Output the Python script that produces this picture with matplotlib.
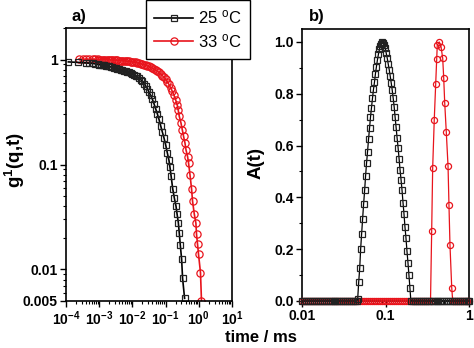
import numpy as np
import matplotlib
matplotlib.use("Agg")
import matplotlib.pyplot as plt
from matplotlib.ticker import FixedLocator, FixedFormatter, LogLocator, NullFormatter, MultipleLocator
from matplotlib.lines import Line2D

plt.rcParams['font.family'] = ['Liberation Sans', 'DejaVu Sans']
plt.rcParams['font.weight'] = 'bold'
plt.rcParams['mathtext.fontset'] = 'custom'
plt.rcParams['mathtext.rm'] = 'Liberation Sans'
plt.rcParams['mathtext.bf'] = 'Liberation Sans:bold'
plt.rcParams['mathtext.default'] = 'regular'

RED = '#e8141c'

# ---------------- panel a : g1(q,t) vs log10(time / ms) ----------------
a_logt_25 = [-3.93, -3.63, -3.40, -3.30, -3.20, -3.12, -3.05, -3.00, -2.95, -2.90,
             -2.85, -2.80, -2.75, -2.70, -2.65, -2.60, -2.55, -2.50, -2.45, -2.40,
             -2.35, -2.30, -2.25, -2.20, -2.15, -2.10, -2.05, -2.00, -1.95, -1.90,
             -1.85, -1.80, -1.75, -1.70, -1.65, -1.60, -1.55, -1.50, -1.45, -1.40,
             -1.35, -1.30, -1.25, -1.20, -1.15, -1.10, -1.05, -1.00, -0.95, -0.90,
             -0.87, -0.835, -0.787, -0.737, -0.686, -0.656, -0.617, -0.587, -0.557,
             -0.518, -0.488, -0.428]
a_g_25 = [0.95, 0.94, 0.93, 0.925, 0.92, 0.91, 0.90, 0.895, 0.89, 0.885,
          0.88, 0.87, 0.865, 0.86, 0.85, 0.845, 0.835, 0.83, 0.82, 0.81,
          0.80, 0.795, 0.785, 0.775, 0.765, 0.755, 0.745, 0.735, 0.72, 0.705,
          0.69, 0.67, 0.645, 0.62, 0.59, 0.56, 0.53, 0.49, 0.455, 0.42,
          0.38, 0.34, 0.305, 0.27, 0.235, 0.205, 0.18, 0.155, 0.13, 0.11,
          0.095, 0.078, 0.059, 0.048, 0.040, 0.034, 0.028, 0.022, 0.017,
          0.0126, 0.0082, 0.0053]

a_logt_33 = [-3.61, -3.50, -3.40, -3.30, -3.20, -3.12, -3.05, -3.00, -2.95, -2.90,
             -2.85, -2.80, -2.75, -2.70, -2.65, -2.60, -2.55, -2.50, -2.45, -2.40,
             -2.35, -2.30, -2.25, -2.20, -2.15, -2.10, -2.05, -2.00, -1.95, -1.90,
             -1.85, -1.80, -1.75, -1.70, -1.65, -1.60, -1.55, -1.50, -1.45, -1.40,
             -1.35, -1.30, -1.25, -1.20, -1.15, -1.10, -1.05, -1.00, -0.95, -0.90,
             -0.85, -0.80, -0.75, -0.70, -0.65, -0.62, -0.587, -0.536, -0.497, -0.458,
             -0.416, -0.386, -0.338, -0.308, -0.266, -0.219, -0.189, -0.138, -0.087,
             -0.069, -0.039, -0.009, 0.051, 0.081]
a_g_33 = [1.01, 1.01, 1.01, 1.01, 1.01, 1.005, 1.005, 1.0, 1.0, 1.0,
          1.0, 1.0, 0.995, 0.995, 0.99, 0.99, 0.99, 0.985, 0.985, 0.98,
          0.98, 0.975, 0.97, 0.97, 0.965, 0.96, 0.955, 0.95, 0.945, 0.94,
          0.93, 0.925, 0.915, 0.905, 0.895, 0.885, 0.87, 0.86, 0.845, 0.83,
          0.81, 0.795, 0.775, 0.755, 0.73, 0.705, 0.68, 0.65, 0.615, 0.58,
          0.54, 0.50, 0.46, 0.415, 0.37, 0.33, 0.287, 0.248, 0.214, 0.185,
          0.16, 0.138, 0.119, 0.103, 0.080, 0.059, 0.045, 0.034, 0.0275,
          0.0217, 0.0175, 0.0140, 0.0093, 0.0050]

# ---------------- panel b : A(t) vs log10(time / ms) ----------------
b_zero_logt_25_left = [-2.000, -1.976, -1.953, -1.929, -1.906, -1.882, -1.858, -1.835, -1.811,
                       -1.788, -1.764, -1.740, -1.717, -1.693, -1.670, -1.646, -1.622, -1.599,
                       -1.575, -1.552, -1.528, -1.504, -1.481, -1.457, -1.434, -1.410, -1.386,
                       -1.363, -1.345]
b_peak_logt_25 = [-1.333, -1.321, -1.309, -1.298, -1.286, -1.274, -1.262, -1.250, -1.239,
                  -1.227, -1.215, -1.203, -1.191, -1.180, -1.168, -1.156, -1.144, -1.132,
                  -1.121, -1.109, -1.097, -1.085, -1.073, -1.062, -1.050, -1.038,
                  -1.026, -1.014, -1.003, -0.991, -0.979, -0.967, -0.955, -0.944, -0.932,
                  -0.920, -0.908, -0.896, -0.885, -0.873, -0.861, -0.849, -0.837, -0.826,
                  -0.814, -0.802, -0.790, -0.778, -0.767, -0.755, -0.743, -0.731, -0.719,
                  -0.708]
b_peak_A_25 = [0.009, 0.073, 0.126, 0.199, 0.259, 0.318, 0.375, 0.427, 0.481,
               0.532, 0.577, 0.625, 0.668, 0.709, 0.746, 0.782, 0.817, 0.845,
               0.876, 0.904, 0.930, 0.952, 0.971, 0.984, 0.994, 1.0,
               0.997, 0.988, 0.976, 0.956, 0.937, 0.914, 0.892, 0.869, 0.843,
               0.815, 0.783, 0.749, 0.710, 0.670, 0.629, 0.591, 0.548, 0.507,
               0.469, 0.427, 0.379, 0.334, 0.286, 0.244, 0.193, 0.148, 0.099,
               0.052]
b_zero_logt_25_right = [-0.696, -0.672, -0.649, -0.625, -0.602, -0.578, -0.554, -0.531, -0.507,
                        -0.484, -0.460, -0.436, -0.413, -0.389, -0.366, -0.342, -0.318, -0.295,
                        -0.271, -0.248, -0.224, -0.200, -0.177, -0.153, -0.130, -0.106, -0.082,
                        -0.059, -0.035, -0.012, 0.000]

b_zero_logt_33_left = [-2.000, -1.976, -1.952, -1.928, -1.904, -1.880, -1.856, -1.832, -1.808,
                       -1.784, -1.760, -1.736, -1.712, -1.688, -1.664, -1.640, -1.616, -1.592,
                       -1.568, -1.544, -1.520, -1.496, -1.472, -1.448, -1.424, -1.400, -1.376,
                       -1.352, -1.328, -1.304, -1.280, -1.256, -1.232, -1.208, -1.184, -1.160,
                       -1.136, -1.112, -1.088, -1.064, -1.040, -1.016, -0.992, -0.968, -0.944,
                       -0.920, -0.896, -0.872, -0.848, -0.824, -0.800, -0.776, -0.752, -0.728,
                       -0.704, -0.680, -0.656, -0.632, -0.608, -0.584, -0.560, -0.536, -0.512,
                       -0.488]
b_peak_logt_33 = [-0.461, -0.447, -0.435, -0.416, -0.399, -0.387, -0.380, -0.356, -0.335,
                  -0.315, -0.303, -0.291, -0.272, -0.251, -0.240, -0.228, -0.207, -0.195]
b_peak_A_33 = [0.0, 0.27, 0.514, 0.70, 0.837, 0.933, 0.988, 1.0, 0.982,
               0.937, 0.862, 0.766, 0.652, 0.52, 0.372, 0.218, 0.052, 0.0]
b_zero_logt_33_right = [-0.171, -0.147, -0.123, -0.099, -0.075, -0.051, -0.027, -0.003]

labels = ['25 $^{o}$C', '33 $^{o}$C']
a_xticks = [1e-4, 1e-3, 1e-2, 1e-1, 1e0, 1e1]
a_xticklabels = [r'$\mathbf{10^{-4}}$', r'$\mathbf{10^{-3}}$', r'$\mathbf{10^{-2}}$',
                 r'$\mathbf{10^{-1}}$', r'$\mathbf{10^{0}}$', r'$\mathbf{10^{1}}$']
a_yticks = [0.005, 0.01, 0.1, 1]
a_yticklabels = ['0.005', '0.01', '0.1', '1']
b_xticks = [0.01, 0.1, 1]
b_xticklabels = ['0.01', '0.1', '1']

fig = plt.figure(figsize=(4.74, 3.48), dpi=100)
W, H = 474.0, 348.0
axa = fig.add_axes([66 / W, 1 - 301 / H, (232 - 66) / W, (301 - 28) / H])
axb = fig.add_axes([302 / W, 1 - 301 / H, (469 - 302) / W, (301 - 29) / H])

# panel a
t33 = 10 ** np.array(a_logt_33)
t25 = 10 ** np.array(a_logt_25)
axa.plot(t33, a_g_33, '-', color=RED, lw=1.2, marker='o', ms=5.2, mfc='none',
         mec=RED, mew=0.9)
axa.plot(t25, a_g_25, '-', color='black', lw=1.2, marker='s', ms=4.8, mfc='none',
         mec='#222222', mew=0.9)
axa.set_xscale('log')
axa.set_yscale('log')
axa.set_xlim(1e-4, 1e1)
axa.set_ylim(0.005, 2.0)
axa.xaxis.set_major_locator(FixedLocator(a_xticks))
axa.xaxis.set_major_formatter(FixedFormatter(a_xticklabels))
axa.xaxis.set_minor_locator(LogLocator(base=10, subs=np.arange(2, 10), numticks=20))
axa.xaxis.set_minor_formatter(NullFormatter())
axa.yaxis.set_major_locator(FixedLocator(a_yticks))
axa.yaxis.set_major_formatter(FixedFormatter(a_yticklabels))
axa.yaxis.set_minor_locator(LogLocator(base=10, subs=np.arange(2, 10), numticks=20))
axa.yaxis.set_minor_formatter(NullFormatter())

# panel b
tb33 = 10 ** np.array(b_zero_logt_33_left + b_peak_logt_33 + b_zero_logt_33_right)
Ab33 = [0.0] * len(b_zero_logt_33_left) + b_peak_A_33 + [0.0] * len(b_zero_logt_33_right)
tb25 = 10 ** np.array(b_zero_logt_25_left + b_peak_logt_25 + b_zero_logt_25_right)
Ab25 = [0.0] * len(b_zero_logt_25_left) + b_peak_A_25 + [0.0] * len(b_zero_logt_25_right)
axb.plot(tb33, Ab33, '-', color=RED, lw=0.9, marker='o', ms=4.4, mfc='none',
         mec=RED, mew=0.9, clip_on=False, zorder=3)
axb.plot(tb25, Ab25, '-', color='black', lw=0.9, marker='s', ms=4.4, mfc='none',
         mec='#222222', mew=0.9, clip_on=False, zorder=4)
axb.set_xscale('log')
axb.set_xlim(0.01, 1)
axb.set_ylim(0, 1.05)
axb.xaxis.set_major_locator(FixedLocator(b_xticks))
axb.xaxis.set_major_formatter(FixedFormatter(b_xticklabels))
axb.xaxis.set_minor_locator(LogLocator(base=10, subs=np.arange(2, 10), numticks=20))
axb.xaxis.set_minor_formatter(NullFormatter())
axb.yaxis.set_major_locator(MultipleLocator(0.2))
axb.yaxis.set_minor_locator(MultipleLocator(0.1))
axb.yaxis.set_major_formatter(plt.FuncFormatter(lambda v, p: f'{v:.1f}'))

for ax in (axa, axb):
    for sp in ax.spines.values():
        sp.set_linewidth(1.2)
    ax.tick_params(which='major', direction='out', length=4, width=1.0,
                   labelsize=10, pad=2)
    ax.tick_params(which='minor', direction='out', length=2.2, width=0.8)
    ax.tick_params(top=False, right=False)

fig.text(72 / W, 1 - 17 / H, 'a)', fontsize=12, fontweight='bold', va='center', ha='left')
fig.text(309 / W, 1 - 17 / H, 'b)', fontsize=12, fontweight='bold', va='center', ha='left')
fig.text(15 / W, 1 - 160 / H, r'g$\mathbf{^{1}}$(q,t)', fontsize=13.5, fontweight='bold',
         rotation=90, va='center', ha='center')
fig.text(256 / W, 1 - 163 / H, 'A(t)', fontsize=13.5, fontweight='bold',
         rotation=90, va='center', ha='center')
fig.text(261 / W, 1 - 338 / H, 'time / ms', fontsize=12, fontweight='bold',
         va='center', ha='center')

handles = [Line2D([], [], color='black', lw=1.2, marker='s', ms=4.8, mfc='none', mec='#222222', mew=0.9),
           Line2D([], [], color=RED, lw=1.2, marker='o', ms=5.2, mfc='none', mec=RED, mew=0.9)]
leg = fig.legend(handles, labels, loc='upper left', bbox_to_anchor=(146 / W, 1.0),
                 bbox_transform=fig.transFigure, borderaxespad=0.0, frameon=True,
                 fancybox=False, framealpha=1.0, edgecolor='black', handlelength=2.3,
                 handletextpad=0.3, labelspacing=0.35, borderpad=0.5, numpoints=1,
                 prop={'size': 12, 'weight': 'normal'})
leg.get_frame().set_linewidth(1.0)
leg.set_zorder(10)

fig.savefig('out.png', dpi=100)
